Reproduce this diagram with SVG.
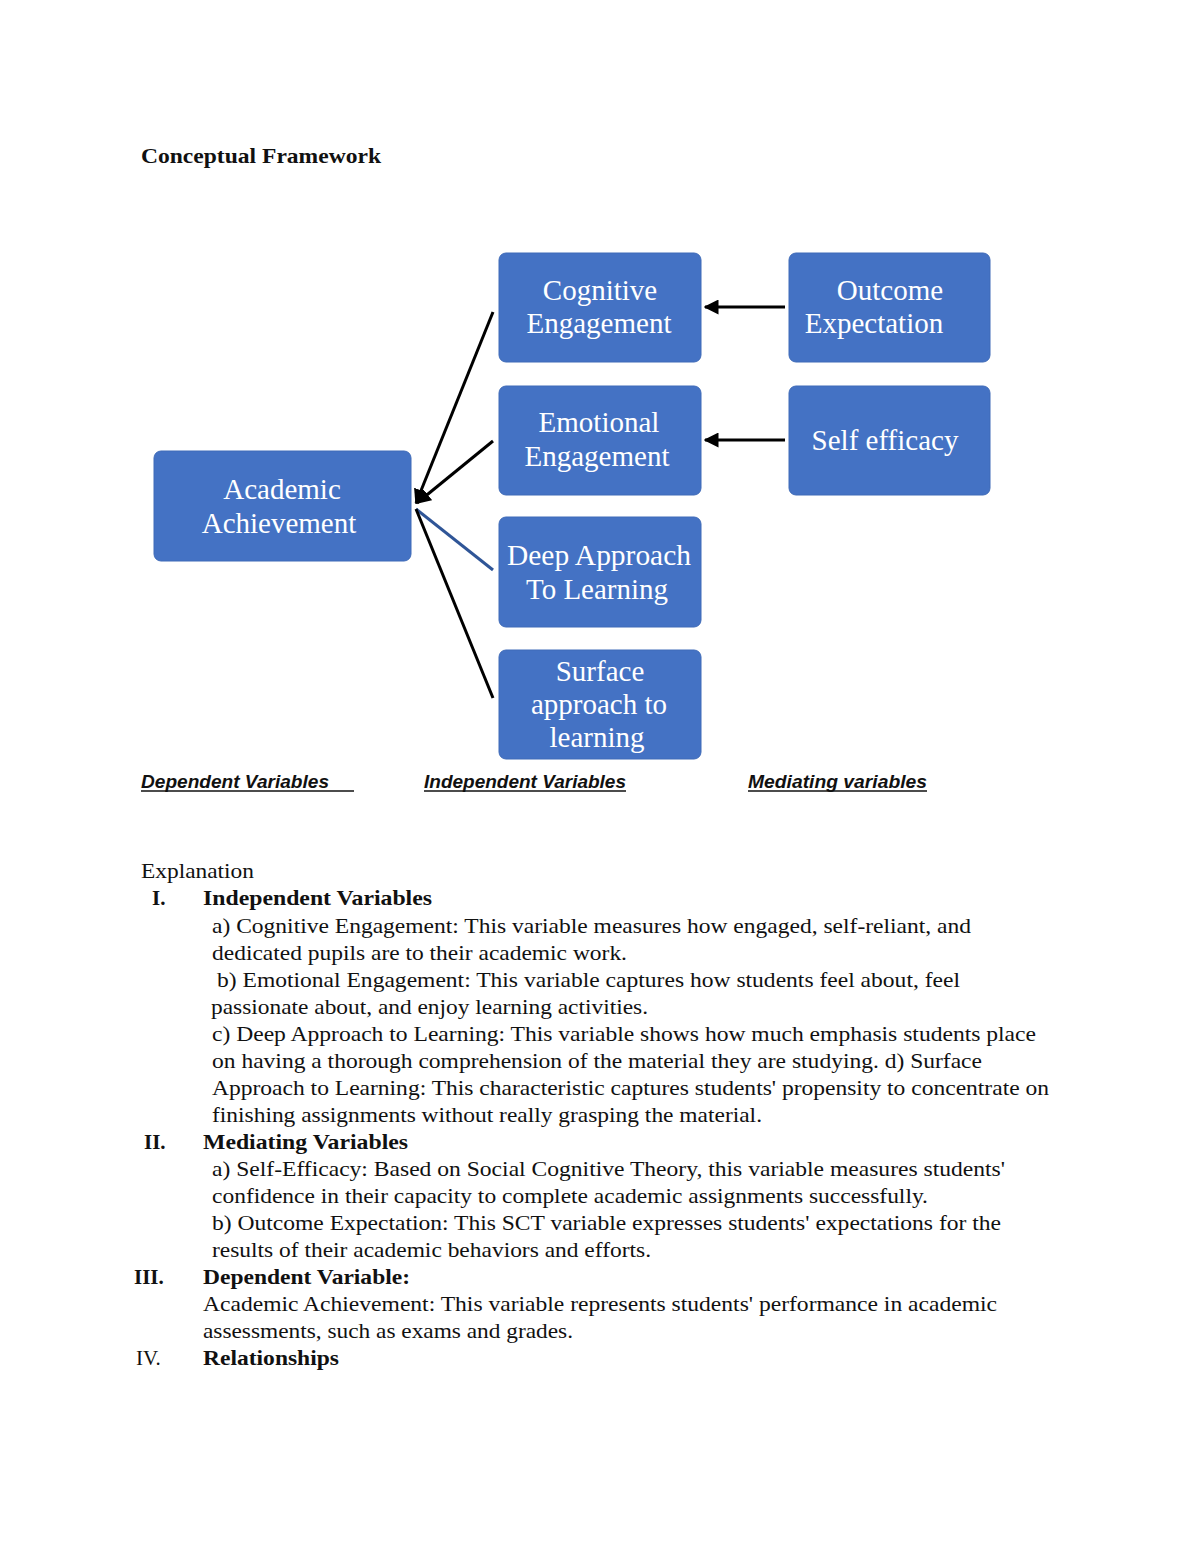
<svg xmlns="http://www.w3.org/2000/svg" width="1200" height="1553" viewBox="0 0 1200 1553">
<style>
.box{fill:#4472C4;stroke:#3f6bb8;stroke-width:1}
.bt{font-family:"Liberation Serif",serif;font-size:29px;fill:#fff;text-anchor:middle}
.body{font-family:"Liberation Serif",serif;font-size:21px;fill:#111}
.bold{font-weight:bold}
.lab{font-family:"Liberation Sans",sans-serif;font-size:18px;font-weight:bold;font-style:italic;fill:#111}
.conn{stroke:#000;stroke-width:3;fill:none}
</style>
<defs>
<marker id="ah" viewBox="0 0 10 10" refX="9" refY="5" markerWidth="5" markerHeight="5" orient="auto" markerUnits="strokeWidth">
<path d="M0,0 L10,5 L0,10 z" fill="#000"/>
</marker>
</defs>
<rect width="1200" height="1553" fill="#fff"/>
<text class="body bold" x="141" y="163" textLength="240" lengthAdjust="spacingAndGlyphs">Conceptual Framework</text>

<g id="connectors">
<line class="conn" x1="493" y1="312" x2="416" y2="503" marker-end="url(#ah)"/>
<line class="conn" x1="493" y1="441" x2="417" y2="503" marker-end="url(#ah)"/>
<line x1="493" y1="570" x2="416" y2="509" stroke="#2f5597" stroke-width="3"/>
<line class="conn" x1="493" y1="698" x2="416" y2="509"/>
<line class="conn" x1="785" y1="307" x2="705" y2="307" marker-end="url(#ah)"/>
<line class="conn" x1="785" y1="440" x2="705" y2="440" marker-end="url(#ah)"/>
</g>

<g id="academic-achievement">
<rect class="box" x="154" y="451" width="257" height="110" rx="7"/>
<text class="bt" x="282" y="499">Academic</text>
<text class="bt" x="279" y="533">Achievement</text>
</g>
<g id="cognitive-engagement">
<rect class="box" x="499" y="253" width="202" height="109" rx="7"/>
<text class="bt" x="600" y="300">Cognitive</text>
<text class="bt" x="599" y="333">Engagement</text>
</g>
<g id="emotional-engagement">
<rect class="box" x="499" y="386" width="202" height="109" rx="7"/>
<text class="bt" x="599" y="432">Emotional</text>
<text class="bt" x="597" y="466">Engagement</text>
</g>
<g id="deep-approach">
<rect class="box" x="499" y="517" width="202" height="110" rx="7"/>
<text class="bt" x="599" y="565" textLength="184" lengthAdjust="spacingAndGlyphs">Deep Approach</text>
<text class="bt" x="597" y="599">To Learning</text>
</g>
<g id="surface-approach">
<rect class="box" x="499" y="650" width="202" height="109" rx="7"/>
<text class="bt" x="600" y="681">Surface</text>
<text class="bt" x="599" y="714">approach to</text>
<text class="bt" x="597" y="747">learning</text>
</g>
<g id="outcome-expectation">
<rect class="box" x="789" y="253" width="201" height="109" rx="7"/>
<text class="bt" x="890" y="300">Outcome</text>
<text class="bt" x="874" y="333">Expectation</text>
</g>
<g id="self-efficacy">
<rect class="box" x="789" y="386" width="201" height="109" rx="7"/>
<text class="bt" x="885" y="450">Self efficacy</text>
</g>

<g id="labels">
<text class="lab" x="141" y="788" textLength="188" lengthAdjust="spacingAndGlyphs">Dependent Variables</text>
<line x1="141" y1="791" x2="354" y2="791" stroke="#111" stroke-width="1.5"/>
<text class="lab" x="424" y="788" textLength="202" lengthAdjust="spacingAndGlyphs">Independent Variables</text>
<line x1="424" y1="791" x2="626" y2="791" stroke="#111" stroke-width="1.5"/>
<text class="lab" x="748" y="788" textLength="179" lengthAdjust="spacingAndGlyphs">Mediating variables</text>
<line x1="748" y1="791" x2="927" y2="791" stroke="#111" stroke-width="1.5"/>
</g>

<g id="explanation">
<text class="body" x="141" y="878" textLength="113" lengthAdjust="spacingAndGlyphs">Explanation</text>
<text class="body bold" x="152" y="905">I.</text>
<text class="body bold" x="203" y="905" textLength="229" lengthAdjust="spacingAndGlyphs">Independent Variables</text>
<text class="body" x="212" y="933" textLength="759" lengthAdjust="spacingAndGlyphs">a) Cognitive Engagement: This variable measures how engaged, self-reliant, and</text>
<text class="body" x="212" y="960" textLength="415" lengthAdjust="spacingAndGlyphs">dedicated pupils are to their academic work.</text>
<text class="body" x="217" y="987" textLength="743" lengthAdjust="spacingAndGlyphs">b) Emotional Engagement: This variable captures how students feel about, feel</text>
<text class="body" x="211" y="1014" textLength="437" lengthAdjust="spacingAndGlyphs">passionate about, and enjoy learning activities.</text>
<text class="body" x="212" y="1041" textLength="824" lengthAdjust="spacingAndGlyphs">c) Deep Approach to Learning: This variable shows how much emphasis students place</text>
<text class="body" x="212" y="1068" textLength="770" lengthAdjust="spacingAndGlyphs">on having a thorough comprehension of the material they are studying. d) Surface</text>
<text class="body" x="212" y="1095" textLength="837" lengthAdjust="spacingAndGlyphs">Approach to Learning: This characteristic captures students' propensity to concentrate on</text>
<text class="body" x="212" y="1122" textLength="550" lengthAdjust="spacingAndGlyphs">finishing assignments without really grasping the material.</text>
<text class="body bold" x="144" y="1149">II.</text>
<text class="body bold" x="203" y="1149" textLength="205" lengthAdjust="spacingAndGlyphs">Mediating Variables</text>
<text class="body" x="212" y="1176" textLength="793" lengthAdjust="spacingAndGlyphs">a) Self-Efficacy: Based on Social Cognitive Theory, this variable measures students'</text>
<text class="body" x="212" y="1203" textLength="716" lengthAdjust="spacingAndGlyphs">confidence in their capacity to complete academic assignments successfully.</text>
<text class="body" x="212" y="1230" textLength="789" lengthAdjust="spacingAndGlyphs">b) Outcome Expectation: This SCT variable expresses students' expectations for the</text>
<text class="body" x="212" y="1257" textLength="439" lengthAdjust="spacingAndGlyphs">results of their academic behaviors and efforts.</text>
<text class="body bold" x="134" y="1284">III.</text>
<text class="body bold" x="203" y="1284" textLength="207" lengthAdjust="spacingAndGlyphs">Dependent Variable:</text>
<text class="body" x="203" y="1311" textLength="794" lengthAdjust="spacingAndGlyphs">Academic Achievement: This variable represents students' performance in academic</text>
<text class="body" x="203" y="1338" textLength="370" lengthAdjust="spacingAndGlyphs">assessments, such as exams and grades.</text>
<text class="body" x="136" y="1365">IV.</text>
<text class="body bold" x="203" y="1365" textLength="136" lengthAdjust="spacingAndGlyphs">Relationships</text>
</g>
</svg>
